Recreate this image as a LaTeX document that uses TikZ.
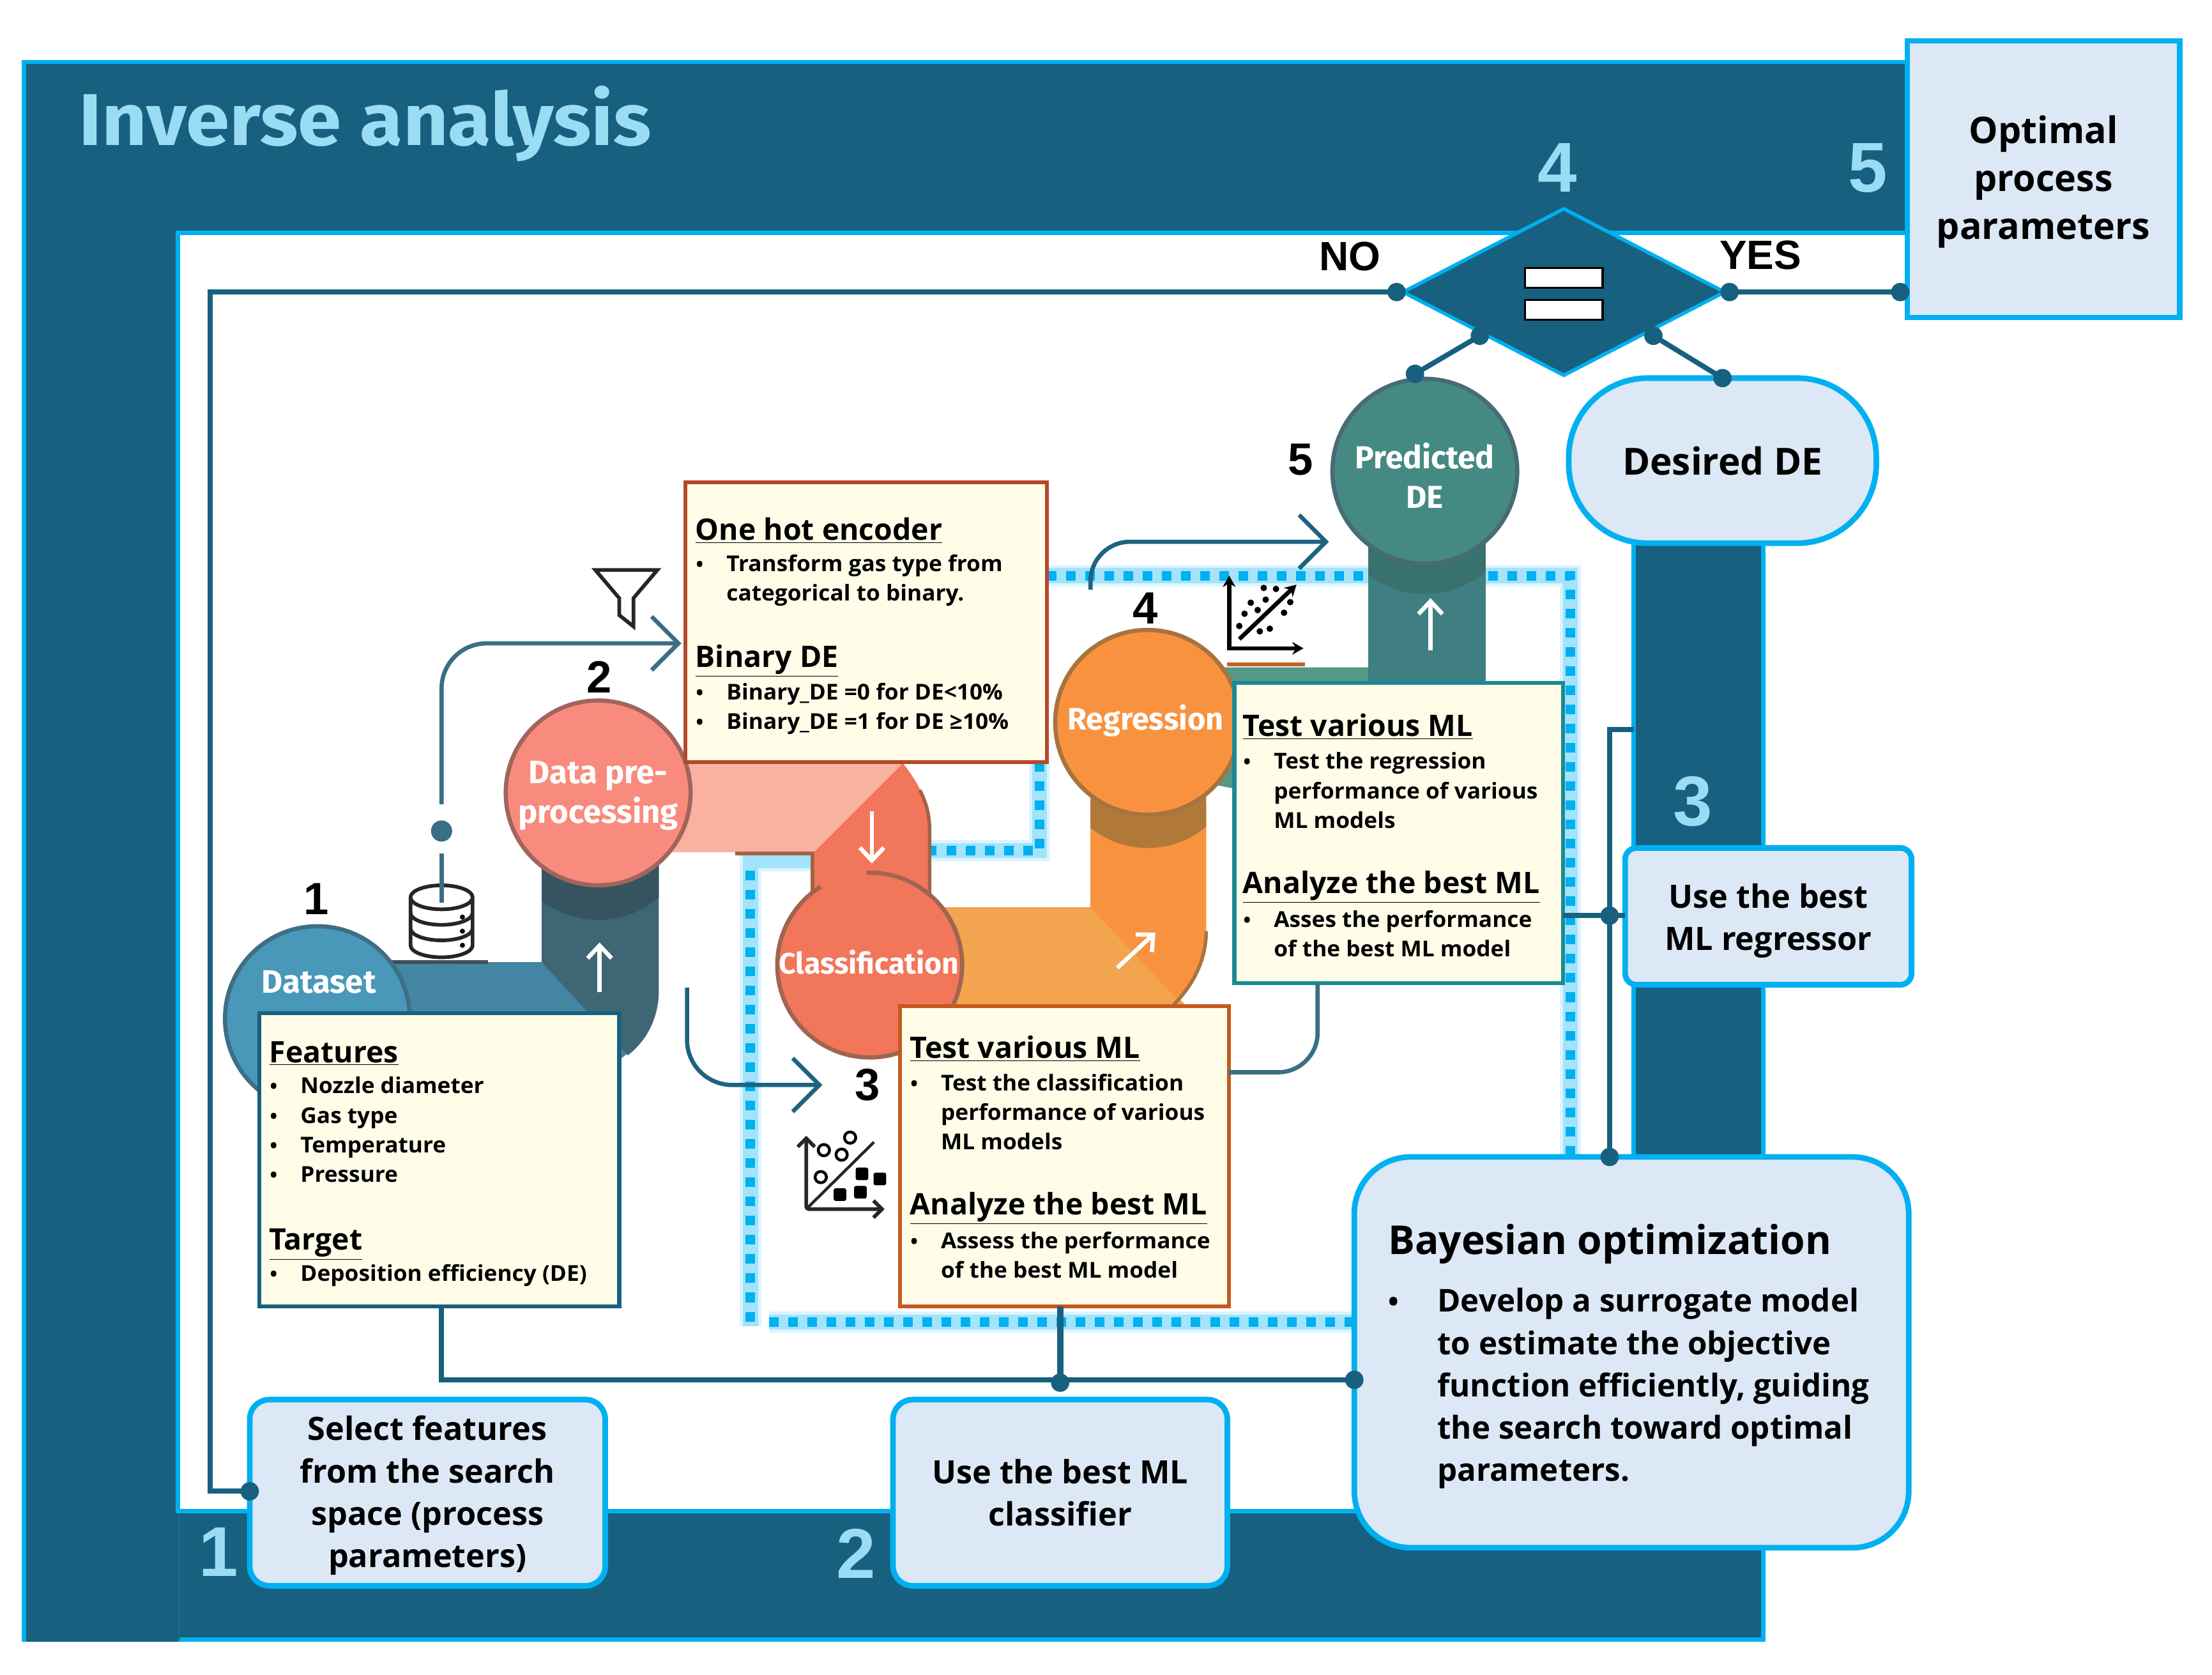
\documentclass[tikz,border=0pt]{standalone}
\usepackage{fontspec}
\setmainfont{Open Sans}
\newfontfamily\dinf{Fira Sans}
\newfontfamily\arf{Liberation Sans}
\usetikzlibrary{arrows.meta}
\usetikzlibrary{shapes.geometric}
\definecolor{frameC}{HTML}{17607F}
\definecolor{seamC}{HTML}{1A6A8C}
\definecolor{skyC}{HTML}{00B0F0}
\definecolor{haloC}{HTML}{A3E3FB}
\definecolor{haloD}{HTML}{DAF4FE}
\definecolor{paleC}{HTML}{DCE8F5}
\definecolor{creamC}{HTML}{FFFDE8}
\definecolor{labelC}{HTML}{9BDCF5}
\definecolor{flowC}{HTML}{3A6E85}
\definecolor{redC}{RGB}{242,118,90}
\tikzset{
  x=1pt,y=-1pt,
  every node/.style={inner sep=0pt,outer sep=0pt},
  conn/.style={draw=frameC,line width=3.6pt},
  flow/.style={draw=flowC,line width=3pt,-{Straight Barb[length=19pt,width=38pt,line width=3pt]}},
  white arrow/.style={draw=white,line width=3pt,-{Straight Barb[length=9pt,width=17pt]}},
  dot/.style={circle,fill=frameC,minimum size=13pt},
  haloo/.style={draw=haloD,line width=15pt},
  halo/.style={draw=haloC,line width=10.5pt},
  dots/.style={draw=skyC,line width=6.8pt,dash pattern=on 6.8pt off 6.8pt},
  pale/.style={draw=skyC,fill=paleC,line width=4pt},
  paletext/.style={text=black,align=center,font=\fontsize{22.8}{30}\selectfont\bfseries},
  note/.style={fill=creamC,line width=2.8pt},
  head/.style={anchor=base west,font=\fontsize{21}{26}\selectfont\bfseries},
  item/.style={anchor=base west,align=left,font=\fontsize{15.5}{21}\selectfont\bfseries\addfontfeature{FakeStretch=1.03}},
  bul/.style={anchor=base,font=\fontsize{14}{21}\selectfont\bfseries},
  ball/.style={circle,minimum size=131pt,line width=3pt},
  balltext/.style={text=white,align=center,font=\dinf\fontsize{23}{28}\selectfont\bfseries},
  num/.style={font=\arf\fontsize{32}{32}\selectfont\bfseries},
  bignum/.style={font=\arf\fontsize{50}{50}\selectfont\bfseries,text=labelC},
  icon/.style={draw=black!85,line width=2.6pt},
  icond/.style={draw=black,line width=3pt},
}
\begin{document}
\begin{tikzpicture}
\useasboundingbox (0,0) rectangle (1568,1187.2);
% frame
\draw[fill=frameC,draw=skyC,line width=3pt] (17,44) -- (1352,44) -- (1352,165) -- (126,165) -- (126,1071) -- (1158,1071) -- (1158,385) -- (1250,385) -- (1250,1162) -- (17,1162) -- cycle;
\fill[frameC] (18.5,1073) rectangle (127,1163.5);
\draw[seamC,line width=1pt] (127,1073) -- (127,1162);
\node[font=\dinf\fontsize{52}{52}\selectfont\bfseries\addfontfeature{FakeStretch=1.07},text=labelC,anchor=base west] (title) at (56,103) {Inverse analysis};
\node[bignum] (f1) at (155,1100) {1};
\node[bignum] (f2) at (607,1101) {2};
\node[bignum] (f3) at (1200,568) {3};
\node[bignum] (f4) at (1104,119) {4};
\node[bignum] (f5) at (1324,119) {5};
% dotted area
\foreach \s in {haloo,halo}{
  \draw[\s] (575,610) -- (532,610) -- (532,940);
  \draw[\s] (545,937) -- (962,937);
  \draw[\s] (742,408) -- (1113,408) -- (1113,818);
  \draw[\s] (737,540) -- (737,603) -- (660,603);
}
\draw[dots] (532,617) -- (532,940);
\draw[dots] (545,937) -- (962,937);
\draw[dots] (742,408) -- (1113,408) -- (1113,818);
\draw[dots] (737,540) -- (737,603) -- (660,603);
% dataset pipe
\fill[color={rgb,255:red,68;green,133;blue,163}] (250,682) -- (384,682) -- (447,745) -- (438,752) -- (200,752) -- cycle;
\fill[color={rgb,255:red,63;green,102;blue,117}] (384,610) -- (467,610) -- (467,702) .. controls (467,722) and (458,738) .. (445,748) -- (384,682) -- cycle;
\begin{scope}
  \clip (384,600) rectangle (467,700);
  \fill[color={rgb,255:red,53;green,84;blue,95}] (424,586) circle (66);
\end{scope}
\draw[color={rgb,255:red,63;green,80;blue,90},line width=2.5pt] (276,682) -- (346,682);
% data pipe
\fill[color={rgb,255:red,249;green,177;blue,160}] (470,541) -- (640,541) -- (577,604) -- (470,604) -- cycle;
\fill[redC] (640,541) .. controls (652,556) and (659,570) .. (659,590) -- (659,650) -- (577,650) -- (577,604) -- cycle;
\draw[color={rgb,255:red,160;green,101;blue,70},line width=2.5pt] (521,605) -- (576,605) -- (576,632);
\draw[color={rgb,255:red,160;green,101;blue,70},line width=2.5pt] (652,560) .. controls (657,570) and (659,578) .. (659,590) -- (659,640);
% classification pipe
\fill[color={rgb,255:red,242;green,164;blue,79}] (665,643) -- (773,643) -- (840,712) -- (665,712) -- cycle;
\fill[color={rgb,255:red,249;green,146;blue,63}] (773,570) -- (855,570) -- (855,660) .. controls (855,680) and (846,698) .. (834,708) -- (773,643) -- cycle;
\begin{scope}
  \clip (773,560) rectangle (855,660);
  \fill[color={rgb,255:red,176;green,121;blue,58}] (813.5,536) circle (65);
\end{scope}
\draw[color={rgb,255:red,168;green,115;blue,62},line width=2.5pt] (855,660) .. controls (855,680) and (846,698) .. (832,712);
% regression pipe
\fill[color={rgb,255:red,84;green,152;blue,136}] (860,473) -- (970,473) -- (985,486) -- (880,560) -- (860,556) -- cycle;
\fill[color={rgb,255:red,63;green,127;blue,130}] (970,385) rectangle (1053,486);
\begin{scope}
  \clip (970,380) rectangle (1053,470);
  \fill[color={rgb,255:red,57;green,113;blue,110}] (1010,355) circle (66);
\end{scope}
\draw[color={rgb,255:red,190;green,100;blue,40},line width=2.5pt] (870,471) -- (925,471);
% balls
\node[ball,draw={rgb,255:red,62;green,111;blue,133},fill={rgb,255:red,74;green,152;blue,185}] (bData) at (225,722) {};
\node[ball,draw={rgb,255:red,160;green,101;blue,92},fill={rgb,255:red,248;green,139;blue,126}] (bPre) at (424,562) {};
\node[ball,draw={rgb,255:red,160;green,101;blue,80},fill=redC] (bCla) at (616.5,684) {};
\node[ball,draw={rgb,255:red,168;green,115;blue,62},fill={rgb,255:red,249;green,146;blue,63}] (bReg) at (813.5,512) {};
\node[ball,draw={rgb,255:red,72;green,107;blue,117},fill={rgb,255:red,69;green,138;blue,130}] (bPred) at (1010,334) {};
\draw[redC,line width=4pt] ([shift={(-122:65.5)}]bCla.center) arc (-122:-92:65.5);
\node[balltext,font=\dinf\fontsize{23}{28}\selectfont\bfseries] (lData) at (226,696) {Dataset};
\node[balltext] (lPre) at (424,564) {Data pre-\\processing};
\node[balltext,font=\dinf\fontsize{21}{28}\selectfont\bfseries] (lCla) at (616,682) {Classification};
\node[balltext,font=\dinf\fontsize{22}{28}\selectfont\bfseries] (lReg) at (812,511) {Regression};
\node[balltext,font=\dinf\fontsize{22.5}{28}\selectfont\bfseries] (lPred) at (1010,337) {Predicted\\DE};
% pipe arrows
\coordinate (w1a) at (425,703); \coordinate (w1b) at (425,668);
\coordinate (w2a) at (618,575); \coordinate (w2b) at (618,612);
\coordinate (w3a) at (792,686); \coordinate (w3b) at (819,661);
\coordinate (w4a) at (1014,461); \coordinate (w4b) at (1014,424);
\draw[white arrow] (w1a) -- (w1b);
\draw[white arrow] (w2a) -- (w2b);
\draw[white arrow] (w3a) -- (w3b);
\draw[white arrow] (w4a) -- (w4b);
% notes
\node[note,draw=frameC,minimum width=255pt,minimum height=208pt] (nData) at (311.5,822) {};
\node[note,draw={rgb,255:red,181;green,72;blue,42},minimum width=256pt,minimum height=198pt] (nPre) at (614,441) {};
\node[note,draw={rgb,255:red,197;green,90;blue,30},minimum width=233pt,minimum height=213pt] (nCla) at (754.5,819.5) {};
\node[note,draw={rgb,255:red,26;green,138;blue,146},minimum width=233pt,minimum height=213pt] (nReg) at (991.5,590.5) {};
% note text (items are anchored on their last line)
\node[head] (hF) at (191,753) {\underline{Features}};
\node[item] (iF) at (213,838) {Nozzle diameter\\Gas type\\Temperature\\Pressure};
\node[bul] (b1) at (194,775) {\textbullet};
\node[bul] (b2) at (194,796) {\textbullet};
\node[bul] (b3) at (194,817) {\textbullet};
\node[bul] (b4) at (194,838) {\textbullet};
\node[head] (hT) at (191,886) {\underline{Target}};
\node[item] (iT) at (213,908) {Deposition efficiency (DE)};
\node[bul] (b5) at (194,908) {\textbullet};
\node[head] (hO) at (493,383) {\underline{One hot encoder}};
\node[item] (iO) at (515,426) {Transform gas type from\\categorical to binary.};
\node[bul] (b6) at (496,405) {\textbullet};
\node[head] (hB) at (493,473) {\underline{Binary DE}};
\node[item] (iB) at (515,517) {Binary\_DE =0 for DE<10\%\\Binary\_DE =1 for DE ≥10\%};
\node[bul] (b7) at (496,496) {\textbullet};
\node[bul] (b8) at (496,517) {\textbullet};
\node[head] (hC) at (645,750) {\underline{Test various ML}};
\node[item] (iC) at (667,815) {Test the classification\\performance of various\\ML models};
\node[bul] (b9) at (648,773) {\textbullet};
\node[head] (hC2) at (645,861) {\underline{Analyze the best ML}};
\node[item] (iC2) at (667,906) {Assess the performance\\of the best ML model};
\node[bul] (b10) at (648,885) {\textbullet};
\node[head] (hR) at (881,522) {\underline{Test various ML}};
\node[item] (iR) at (903,587) {Test the regression\\performance of various\\ML models};
\node[bul] (b11) at (884,545) {\textbullet};
\node[head] (hR2) at (881,633) {\underline{Analyze the best ML}};
\node[item] (iR2) at (903,678) {Asses the performance\\of the best ML model};
\node[bul] (b12) at (884,657) {\textbullet};
% numbers
\node[num] (n1) at (224,637) {1};
\node[num] (n2) at (425,480) {2};
\node[num] (n3) at (615,769) {3};
\node[num] (n4) at (812,431) {4};
\node[num] (n5) at (922,326) {5};
\node[font=\arf\fontsize{29}{29}\selectfont\bfseries] (lNo) at (957,182) {NO};
\node[font=\arf\fontsize{29}{29}\selectfont\bfseries] (lYes) at (1248,181) {YES};
% decision
\node[diamond,draw=skyC,fill=frameC,line width=2.5pt,minimum width=228pt,minimum height=118pt,aspect=1.93] (dec) at (1108.5,207) {};
\node[draw=black,fill=white,line width=1.5pt,minimum width=55pt,minimum height=14pt] (eq1) at (1108.5,197) {};
\node[draw=black,fill=white,line width=1.5pt,minimum width=55pt,minimum height=14pt] (eq2) at (1108.5,219.5) {};
% pale boxes
\node[pale,minimum width=193pt,minimum height=196pt] (bOpt) at (1448.5,127) {};
\node[paletext,font=\fontsize{26}{34}\selectfont\bfseries] (tOpt) at (1448.5,129) {Optimal\\process\\parameters};
\node[pale,rounded corners=56pt,minimum width=218pt,minimum height=117pt] (bDes) at (1221,326.5) {};
\node[paletext,font=\fontsize{26.5}{34}\selectfont\bfseries] (tDes) at (1221,326.5) {Desired DE};
\node[pale,rounded corners=8pt,minimum width=203pt,minimum height=97pt] (bUseR) at (1253.5,649.5) {};
\node[paletext] (tUseR) at (1253.5,652.5) {Use the best\\ML regressor};
\node[pale,rounded corners=14pt,minimum width=237pt,minimum height=132pt] (bUseC) at (751.5,1058) {};
\node[paletext] (tUseC) at (751.5,1058) {Use the best ML\\classifier};
\node[pale,rounded corners=14pt,minimum width=252pt,minimum height=132pt] (bSel) at (303,1058) {};
\node[paletext] (tSel) at (303,1060) {Select features\\from the search\\space (process\\parameters)};
\node[pale,rounded corners=40pt,minimum width=393pt,minimum height=277pt] (bBay) at (1156.5,958.5) {};
\node[anchor=base west,font=\fontsize{28.2}{36}\selectfont\bfseries] (hBay) at (984,889) {Bayesian optimization};
\node[anchor=base west,align=left,font=\fontsize{22.3}{30}\selectfont\bfseries] (iBay) at (1019,1050) {Develop a surrogate model\\to estimate the objective\\function efficiently, guiding\\the search toward optimal\\parameters.};
\node[anchor=base,font=\fontsize{20}{30}\selectfont\bfseries] (b13) at (988,930) {\textbullet};
% connectors
\node[dot] (dNo) at (990,207) {};
\node[dot] (dYes) at (1226,207) {};
\node[dot] (dOpt) at (1347,207) {};
\node[dot] (dL) at (1049,238) {};
\node[dot] (dP) at (1003,265) {};
\node[dot] (dR) at (1172,238) {};
\node[dot] (dD) at (1221,268) {};
\node[dot] (dSel) at (177,1057) {};
\node[dot] (dC) at (751.5,980) {};
\node[dot] (dB) at (960,978) {};
\node[dot] (dT) at (1141,820) {};
\node[dot] (dU) at (1141,649) {};
\coordinate (noA) at (149,207);
\coordinate (noB) at (149,1057);
\coordinate (dsA) at (313,978);
\coordinate (ruA) at (1141,517);
\coordinate (ruB) at (1158,517);
\draw[conn] (dNo.center) -- (noA) -- (noB) -- (dSel.center);
\draw[conn] (dYes.center) -- (dOpt.center);
\draw[conn] (dL.center) -- (dP.center);
\draw[conn] (dR.center) -- (dD.center);
\draw[conn] (nData.south -| dsA) -- (dsA) -- (dB.center);
\draw[conn,line width=4.5pt] (nCla.south -| dC) -- (dC.center);
\draw[conn] (dT.center) -- (ruA) -- (ruB);
\draw[conn] (nReg.east |- dU) -- (bUseR.west |- dU);
% flow arrows
\coordinate (a1) at (313,570); \coordinate (a1b) at (313,456); \coordinate (a1c) at (483,456);
\coordinate (a2) at (487,700); \coordinate (a2b) at (487,769); \coordinate (a2c) at (583,769);
\coordinate (a3) at (773,418); \coordinate (a3b) at (773,384); \coordinate (a3c) at (942,384);
\coordinate (a4) at (934,760);
\node[dot,fill=flowC,minimum size=15pt] (dDb) at (313,589) {};
\coordinate (a5) at (313,605); \coordinate (a6) at (313,640);
\draw[flow,rounded corners=32pt] (a1) -- (a1b) -- (a1c);
\draw[flow,draw=frameC!80!flowC,rounded corners=32pt] (a2) -- (a2b) -- (a2c);
\draw[flow,draw=frameC!80!flowC,rounded corners=28pt] (a3) -- (a3b) -- (a3c);
\draw[draw=flowC,line width=3pt,rounded corners=28pt] (nCla.east |- a4) -- (a4) -- (nReg.south -| a4);
% icons
\draw[icon] (422,404) -- (466,404) -- (449,424) -- (449,444) -- (439,436) -- (439,424) -- cycle;
\draw[icon] (313,636) ellipse (22 and 8.5);
\draw[icon] (291,636) -- (291,670) arc (180:0:22 and 8.5) -- (335,636);
\draw[icon] (291,647) arc (180:0:22 and 8.5);
\draw[icon] (291,658) arc (180:0:22 and 8.5);
\foreach \y in {650,660,670}
  \fill[black] (327.8,\y) circle (1.8);
\draw[draw=flowC,line width=3pt] (a5) -- (a6);
% classification chart
\draw[icon,{Straight Barb[length=6pt,width=12pt]}-{Straight Barb[length=6pt,width=12pt]},rounded corners=2pt] (571.5,805) -- (571.5,857) -- (627,857);
\draw[icon,line width=2pt] (571.5,857) -- (619.5,809.5);
\foreach \p in {(584,815.2),(596.6,818.4),(602.6,806.3),(581.8,834.3)}
  \draw[black,line width=2pt] \p circle (4);
\foreach \p in {(611,832),(623.7,835.6),(595.4,846.7),(609.9,845)}
  \fill[black,rounded corners=1.5pt] \p ++(-4.5,-4.5) rectangle ++(9,9);
% regression chart
\draw[icond,{Stealth[length=8pt,width=9pt]}-{Stealth[length=8pt,width=9pt]}] (871.3,408) -- (871.3,459.5) -- (924,459.5);
\draw[icond,-{Stealth[length=8pt,width=9pt]}] (878.5,453) -- (919,414.4);
\foreach \p in {(886.6,427.2),(895.8,416.7),(904.5,417.4),(882.2,435),(891.5,432.4),(897.2,425),(914.6,426.8),(910.2,434.3),(900.1,445.6),(893,447.5),(878.5,443.7)}
  \fill[black] \p circle (2.3);
\end{tikzpicture}
\end{document}
